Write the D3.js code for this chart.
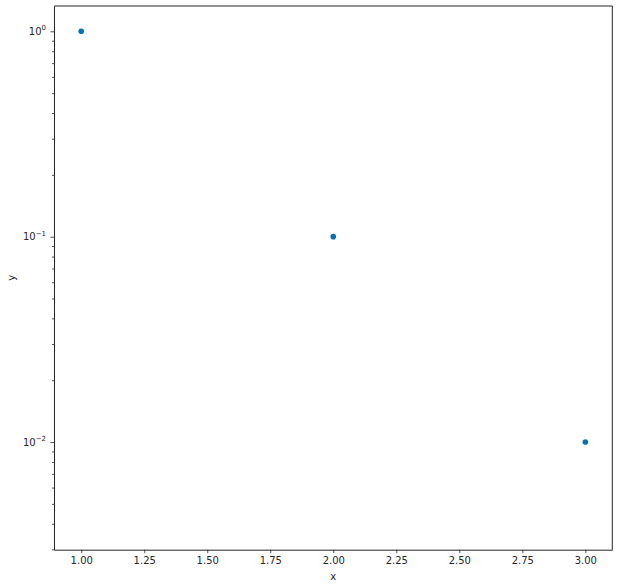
<!DOCTYPE html>
<html>
<head>
<meta charset="utf-8">
<script src="https://cdn.jsdelivr.net/npm/d3@7"></script>
<style>
  body { margin: 0; background: #fff; }
  text { font-family: "DejaVu Sans", sans-serif; fill: #262626; }
</style>
</head>
<body>
<svg></svg>
<script>
const width = 628;
const height = 587;

// data
const xValues = [1, 2, 3];
const yValues = [1, 0.1, 0.01];
const xTicks = [1.00, 1.25, 1.50, 1.75, 2.00, 2.25, 2.50, 2.75, 3.00];
const yTicks = [1, 0.1, 0.01];
const yExponents = ['0', '\u22121', '\u22122'];

const margin = {top: 6, right: 15.7, bottom: 37.3, left: 54};

const svg = d3.select('svg')
    .attr('width', width)
    .attr('height', height);

const x = d3.scaleLinear()
    .domain([0.892, 3.107])
    .range([margin.left, width - margin.right]);

const y = d3.scaleLog()
    .domain([0.00299, 1.328])
    .range([height - margin.bottom, margin.top]);

// x axis
const xAxis = svg.append('g')
    .attr('transform', `translate(0,${height - margin.bottom})`)
    .call(d3.axisBottom(x).tickValues(xTicks).tickFormat(d3.format('.2f'))
        .tickSize(3.5).tickSizeOuter(0).tickPadding(3.5));

// y axis, major ticks with power labels
const yAxis = svg.append('g')
    .attr('transform', `translate(${margin.left},0)`)
    .call(d3.axisLeft(y).tickValues(yTicks).tickFormat('').tickSize(3.5).tickSizeOuter(0));

// minor ticks
let minor = [];
[0.001, 0.01, 0.1, 1].forEach(base => {
    for (let m = 2; m <= 9; m++) {
        const v = base * m;
        if (v >= y.domain()[0] && v <= y.domain()[1]) minor.push(v);
    }
});
svg.append('g')
    .attr('transform', `translate(${margin.left},0)`)
    .call(d3.axisLeft(y).tickValues(minor).tickFormat('').tickSize(2).tickSizeOuter(0))
    .call(g => g.select('.domain').remove());

[xAxis, yAxis].forEach(g => {
    g.selectAll('.domain').attr('stroke', '#262626').attr('stroke-width', 1);
    g.selectAll('.tick text').attr('font-size', 10).attr('fill', '#262626')
        .style('font-family', '"DejaVu Sans", sans-serif');
});
svg.selectAll('.tick line').attr('stroke', '#262626').attr('stroke-width', 0.8);

yTicks.forEach((v, i) => {
    const t = svg.append('text')
        .attr('x', margin.left - 8)
        .attr('y', y(v) + 3.5)
        .attr('text-anchor', 'end')
        .attr('font-size', 10);
    t.append('tspan').text('10');
    t.append('tspan').attr('dy', -4.5).attr('font-size', 7).text(yExponents[i]);
});

// frame top & right
svg.append('line')
    .attr('x1', margin.left).attr('x2', width - margin.right)
    .attr('y1', margin.top).attr('y2', margin.top)
    .attr('stroke', '#262626');
svg.append('line')
    .attr('x1', width - margin.right).attr('x2', width - margin.right)
    .attr('y1', margin.top).attr('y2', height - margin.bottom)
    .attr('stroke', '#262626');

// points
svg.append('g')
    .selectAll('circle')
    .data(xValues.map((d, i) => [d, yValues[i]]))
    .enter()
    .append('circle')
    .attr('cx', d => x(d[0]))
    .attr('cy', d => y(d[1]))
    .attr('r', 2.8)
    .attr('fill', '#0173b2');

// axis labels
svg.append('text')
    .attr('x', (margin.left + width - margin.right) / 2)
    .attr('y', 580)
    .attr('text-anchor', 'middle')
    .attr('font-size', 10)
    .text('x');

svg.append('text')
    .attr('transform', `translate(15,${(margin.top + height - margin.bottom) / 2}) rotate(-90)`)
    .attr('text-anchor', 'middle')
    .attr('font-size', 10)
    .text('y');
</script>
</body>
</html>
